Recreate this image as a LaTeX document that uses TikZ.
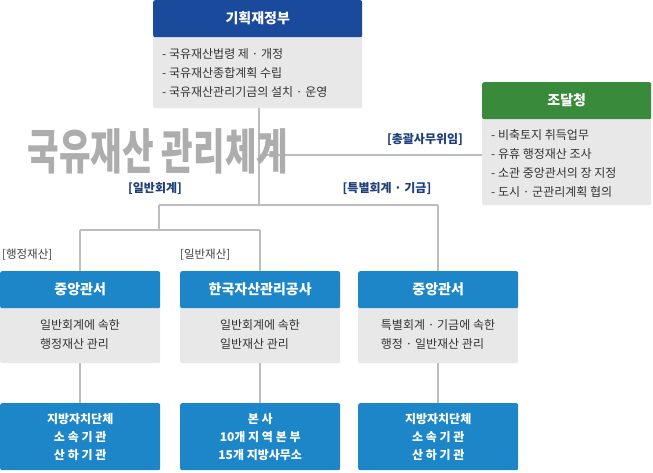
\documentclass[tikz,border=0pt]{standalone}
\usepackage{fontspec}
\setmainfont{Noto Sans CJK KR}
\usetikzlibrary{positioning}
\definecolor{mofblue}{HTML}{1A4A9C}
\definecolor{ppsgreen}{HTML}{3A8A3C}
\definecolor{orgblue}{HTML}{1C86C8}
\definecolor{bodygray}{HTML}{E8E8E8}
\definecolor{linegray}{HTML}{BDBDBD}
\definecolor{tagblue}{HTML}{1F3F7A}
\tikzset{
  head/.style={fill=#1, text=white, rounded corners=2pt, font=\fontsize{14}{16}\selectfont\bfseries, anchor=north west},
  body/.style={fill=bodygray, rounded corners=2pt, anchor=north west},
  item/.style={font=\fontsize{12}{14}\selectfont, text=black!80, anchor=west, inner sep=0pt},
  tag/.style={font=\fontsize{12}{14}\selectfont\bfseries, text=tagblue},
  gtag/.style={font=\fontsize{11.5}{13}\selectfont, text=black!75, anchor=west, inner sep=0pt},
  conn/.style={draw=linegray, line width=1.2pt}
}
\begin{document}
\begin{tikzpicture}[x=1pt, y=-1pt]
\useasboundingbox (0,0) rectangle (653,473);
% connectors first
\coordinate (split) at (259,205);
\coordinate (pps) at (482,155);
\draw[conn] (259,108) -- (split);
\draw[conn] (259,155) -- (pps);
\draw[conn] (159,205) -- (438,205);
\draw[conn] (159,205) -- (159,230);
\draw[conn] (80,230) -- (260,230);
\draw[conn] (80,230) -- (80,271);
\draw[conn] (260,230) -- (260,271);
\draw[conn] (438,205) -- (438,271);
\foreach \cx in {80,260,438}
  \draw[conn] (\cx,362) -- (\cx,403);
% watermark
\node[text=black!32, xscale=0.78, yscale=1.1, font=\fontsize{44}{46}\selectfont\bfseries] (title) at (158,151) {국유재산 관리체계};
% ministry
\node[body, minimum width=209pt, minimum height=108pt] (mofb) at (153,0) {};
\node[head=mofblue, minimum width=209pt, minimum height=37pt] (mof) at (153,0) {기획재정부};
\node[item] (m1) at (162,54) {- 국유재산법령 제 · 개정};
\node[item] (m2) at (162,73) {- 국유재산종합계획 수립};
\node[item] (m3) at (162,92) {- 국유재산관리기금의 설치 · 운영};
% procurement
\node[body, minimum width=169pt, minimum height=123pt] (ppsb) at (482,82) {};
\node[head=ppsgreen, minimum width=169pt, minimum height=37pt] (ppsh) at (482,82) {조달청};
\node[item] (p1) at (491,135) {- 비축토지 취득업무};
\node[item] (p2) at (491,154) {- 유휴 행정재산 조사};
\node[item] (p3) at (491,173) {- 소관 중앙관서의 장 지정};
\node[item] (p4) at (491,192) {- 도시 · 군관리계획 협의};
% tags
\node[tag] (t1) at (425,139) {[총괄사무위임]};
\node[tag] (t2) at (155,188) {[일반회계]};
\node[tag] (t3) at (387,188) {[특별회계 · 기금]};
\node[gtag] (g1) at (2,255) {[행정재산]};
\node[gtag] (g2) at (180,255) {[일반재산]};
% lower row
\foreach \n/\lx/\hd/\la/\lb/\ba/\bb/\bc in {
  a/0/중앙관서/일반회계에 속한/행정재산 관리/지방자치단체/소 속 기 관/산 하 기 관,
  b/180/한국자산관리공사/일반회계에 속한/일반재산 관리/본 사/10개 지 역 본 부/15개 지방사무소,
  c/358/중앙관서/특별회계 · 기금에 속한/행정 · 일반재산 관리/지방자치단체/소 속 기 관/산 하 기 관}{
  \node[body, minimum width=160pt, minimum height=92pt] (\n b) at (\lx,271) {};
  \node[head=orgblue, minimum width=160pt, minimum height=37pt] (\n h) at (\lx,271) {\hd};
  \node[font=\fontsize{12}{19}\selectfont, text=black!80, align=left] (\n t) at (\lx+80,335) {\la\\\lb};
  \node[fill=orgblue, text=white, rounded corners=2pt, minimum width=160pt, minimum height=67pt,
        anchor=north west, align=center, font=\fontsize{12}{18}\selectfont\bfseries] (\n l) at (\lx,403) {\ba\\\bb\\\bc};
}
\end{tikzpicture}
\end{document}
